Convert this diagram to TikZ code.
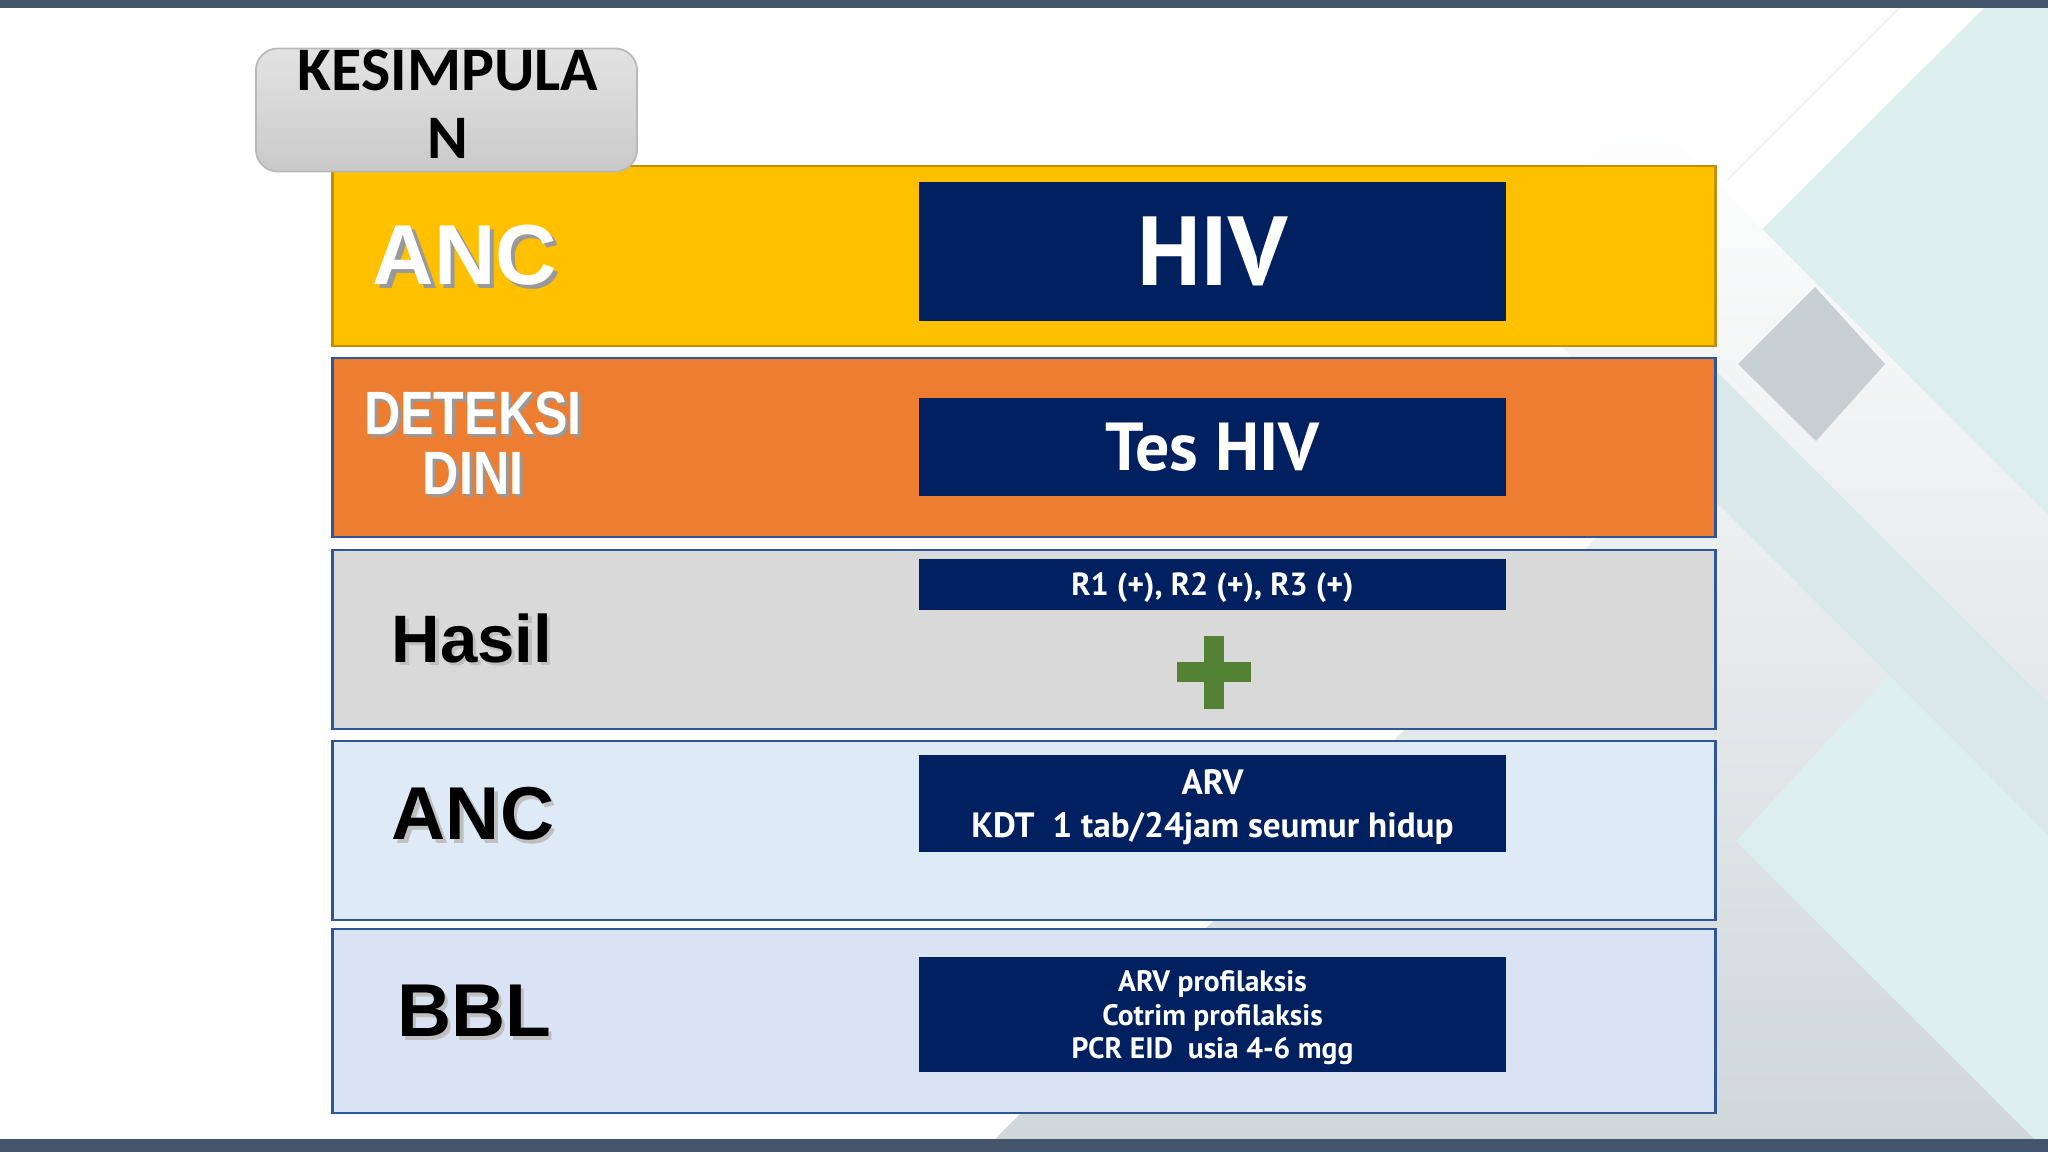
\documentclass[tikz,border=0pt]{standalone}
\usepackage{fontspec}
\setmainfont{Liberation Sans}
\newfontfamily\titlefont{Carlito}
\newfontfamily\narrowfont[FakeStretch=0.82]{Liberation Sans}
\newfontfamily\boxfont{PT Sans}
\usepackage{xcolor}
\definecolor{BarColor}{RGB}{68,84,106}
\definecolor{AncYellow}{RGB}{255,192,0}
\definecolor{AncBorder}{RGB}{191,144,0}
\definecolor{DetOrange}{RGB}{237,125,49}
\definecolor{RowBorder}{RGB}{47,85,151}
\definecolor{HasilGray}{RGB}{217,217,217}
\definecolor{AncBlue}{RGB}{222,235,247}
\definecolor{BblBlue}{RGB}{218,227,243}
\definecolor{NavyBox}{RGB}{0,32,96}
\definecolor{PlusGreen}{RGB}{84,130,53}
\definecolor{BgGray}{RGB}{208,215,217}
\definecolor{BgTeal}{RGB}{221,239,236}
\definecolor{BgDark}{RGB}{200,207,209}
\usepackage{tikz}
\usetikzlibrary{positioning}
\usetikzlibrary{calc}
\tikzstyle{rowbox} = [draw=RowBorder, line width=0.8pt, minimum width=13.82cm, inner sep=0pt]
\tikzstyle{navybox} = [fill=NavyBox, minimum width=5.87cm, inner sep=0pt, text depth=0pt, text=white, align=center]
\tikzstyle{leftlabel} = [inner sep=0pt, align=center]
\newcommand{\txtshadow}[2]{\leavevmode\rlap{\kern0.05em\raisebox{-0.05em}{\textcolor{#1}{#2}}}#2}

\begin{document}
\begin{tikzpicture}[x=0.01cm, y=-0.01cm]
    \useasboundingbox (0,0) rectangle (2048,1152);
    \fill[white] (0,0) rectangle (2048,1152);
    % background
    \shade[top color=white, middle color=BgGray, bottom color=BgGray] (1640,107) -- (2048,515) -- (2048,1139) -- (995,1139) -- (1674,460) -- (1481,266) -- cycle;
    \fill[BgTeal] (1984,8) -- (2048,8) -- (2048,515) -- (1762,229) -- cycle;
    \fill[BgTeal!75!BgGray] (1717,372) -- (2048,703) -- (2048,834) -- (1717,503) -- cycle;
    \fill[BgDark] (1815,287) -- (1885,364) -- (1816,441) -- (1738,364) -- cycle;
    \fill[BgTeal] (1736,841) -- (1888,675) -- (2048,835) -- (2048,1139) -- (2034,1139) -- cycle;
    \draw[gray!10, line width=0.6pt] (1899,8) -- (1727,180);
    \fill[BarColor] (0,0) rectangle (2048,8);
    \fill[BarColor] (0,1139) rectangle (2048,1152);

    \node[rowbox, draw=AncBorder, fill=AncYellow, minimum height=1.80cm] (rowHiv) at (1024,256) {};
    \node[rowbox, fill=DetOrange, minimum height=1.79cm] (rowTes) at (1024,447.5) {};
    \node[rowbox, fill=HasilGray, minimum height=1.79cm] (rowHasil) at (1024,639.5) {};
    \node[rowbox, fill=AncBlue, minimum height=1.79cm] (rowArv) at (1024,830.5) {};
    \node[rowbox, fill=BblBlue, minimum height=1.84cm] (rowBbl) at (1024,1021) {};

    \node[draw=gray!55, line width=0.5pt, rounded corners=0.22cm, top color=gray!22, bottom color=gray!42, minimum width=3.81cm, minimum height=1.23cm] (titlebox) at (446.5,110) {};
    \node[inner sep=0pt, align=center, font=\titlefont\bfseries\fontsize{17.6}{19.4}\selectfont] (title) at (448,104.5) {KESIMPULA\\N};

    \node[leftlabel, text=white, font=\bfseries\fontsize{24.2}{29}\selectfont] (ancTop) at (465,257) {\txtshadow{gray!80}{ANC}};
    \node[leftlabel, text=white, font=\narrowfont\bfseries\fontsize{17.4}{17.1}\selectfont] (deteksi) at (473,445) {\txtshadow{gray!80}{DETEKSI}\\\txtshadow{gray!80}{DINI}};
    \node[leftlabel, font=\bfseries\fontsize{19.1}{23}\selectfont] (hasil) at (472,640) {\txtshadow{gray!50}{Hasil}};
    \node[leftlabel, font=\bfseries\fontsize{21.3}{26}\selectfont] (ancMid) at (473,816) {\txtshadow{gray!50}{ANC}};
    \node[leftlabel, font=\bfseries\fontsize{21.3}{26}\selectfont] (bbl) at (474,1013) {\txtshadow{gray!50}{BBL}};

    \node[navybox, minimum height=1.39cm, font=\boxfont\bfseries\fontsize{27.9}{33}\selectfont] (hiv) at (1212.5,251.5) {HIV};
    \node[navybox, minimum height=0.98cm, font=\boxfont\bfseries\fontsize{19.3}{23}\selectfont] (tes) at (1212.5,447) {Tes HIV};
    \node[navybox, minimum height=0.51cm, font=\boxfont\bfseries\fontsize{9.1}{11}\selectfont] (reaktif) at (1212.5,584.5) {R1 (+), R2 (+), R3 (+)};
    \node[navybox, minimum height=0.97cm, font=\boxfont\bfseries\fontsize{10}{12}\selectfont] (arv) at (1212.5,803.5) {ARV\\KDT~~1 tab/24jam seumur hidup};
    \node[navybox, minimum height=1.15cm, font=\boxfont\bfseries\fontsize{8.4}{9.4}\selectfont] (profilaksis) at (1212.5,1014.5) {ARV profilaksis\\Cotrim profilaksis\\PCR EID~~usia 4-6 mgg};

    \fill[PlusGreen] (1177,662) rectangle (1251,682);
    \fill[PlusGreen] (1204,636) rectangle (1224,709);
\end{tikzpicture}
\end{document}
